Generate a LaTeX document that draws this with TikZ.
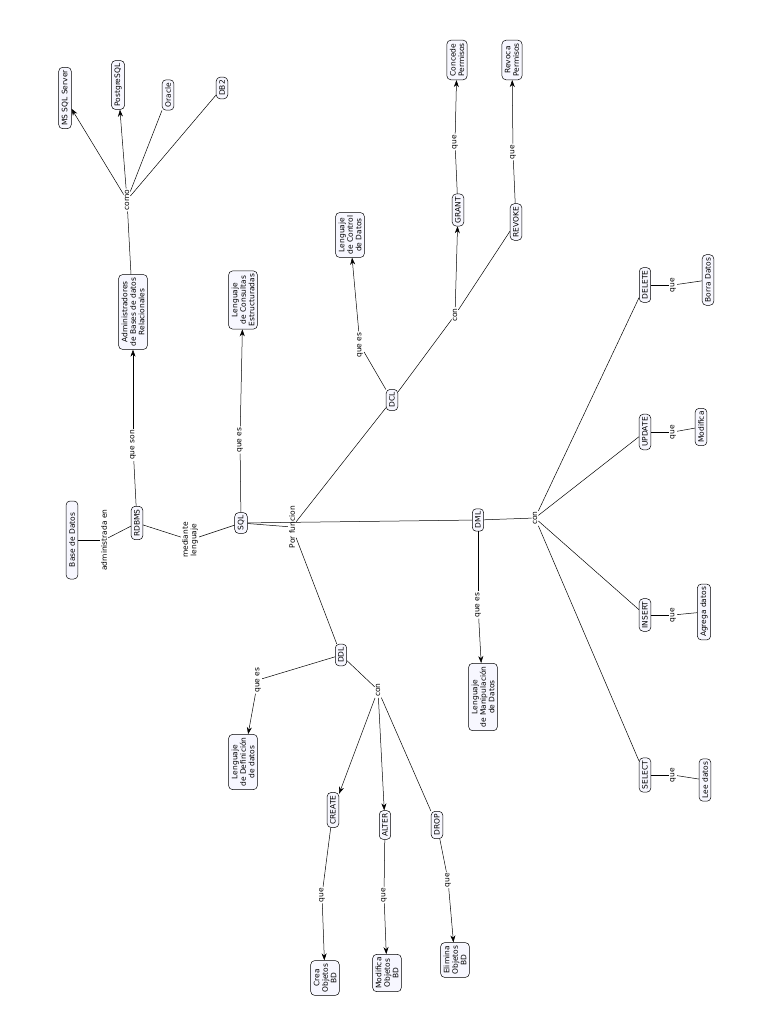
\documentclass[tikz,border=0pt]{standalone}
\usepackage{fontspec}
\setmainfont{DejaVu Sans}
\usetikzlibrary{arrows.meta}
\begin{document}
\begin{tikzpicture}[x=1pt,y=-1pt,
  box/.style={draw=black,fill=black!4!blue!3,rounded corners=4pt,rotate=90,align=center,font=\fontsize{7.5}{8.5}\selectfont,inner sep=3pt,line width=0.5pt},
  lab/.style={rotate=90,align=center,font=\fontsize{7.5}{8.5}\selectfont,inner sep=1pt},
  arr/.style={-{Stealth[length=7pt,width=5pt]},line width=0.5pt},
  ln/.style={line width=0.5pt}]
\useasboundingbox (0,0) rectangle (768,1024);
% nodes
\node[box,minimum width=78pt] (bd) at (72,540) {Base de Datos};
\node[lab] (adm) at (104,540) {administrada en};
\node[box] (rdbms) at (137,523) {RDBMS};
\node[lab] (med) at (190,540) {mediante\\lenguaje};
\node[box] (sql) at (241,523) {SQL};
\node[box] (admin) at (133,312) {Administradores\\de Bases de datos\\Relacionales};
\node[lab] (qson) at (133,445) {que son};
\node[lab] (como) at (127,200) {como};
\node[box] (ms) at (65,98) {MS SQL Server};
\node[box] (pg) at (118,85) {PostgreSQL};
\node[box] (ora) at (168,95) {Oracle};
\node[box] (db2) at (222,88) {DB2};
\node[box] (lce) at (243,300) {Lenguaje\\de Consultas\\Estructuradas};
\node[lab] (qes1) at (240,440) {que es};
\node[lab] (pf) at (292,527) {Por funcion};
\node[box] (dcl) at (392,400) {DCL};
\node[lab] (qes2) at (360,345) {que es};
\node[box] (lcd) at (350,235) {Lenguaje\\de Control\\de Datos};
\node[lab] (con1) at (455,315) {con};
\node[box] (grant) at (458,210) {GRANT};
\node[box] (revoke) at (516,222) {REVOKE};
\node[lab] (q1) at (455,142) {que};
\node[lab] (q2) at (513,152) {que};
\node[box] (cp) at (457,60) {Concede\\Permisos};
\node[box] (rp) at (512,60) {Revoca\\Permisos};
\node[box] (dml) at (478,520) {DML};
\node[lab] (con2) at (535,518) {con};
\node[lab] (qes3) at (478,605) {que es};
\node[box] (lmd) at (483,697) {Lenguaje\\de Manipulación\\de Datos};
\node[box] (del) at (645,285) {DELETE};
\node[box] (upd) at (645,432) {UPDATE};
\node[box] (ins) at (645,615) {INSERT};
\node[box] (sel) at (645,775) {SELECT};
\node[lab] (qd) at (673,285) {que};
\node[lab] (qu) at (673,432) {que};
\node[lab] (qi) at (673,615) {que};
\node[lab] (qs) at (673,775) {que};
\node[box] (bdat) at (708,280) {Borra Datos};
\node[box] (modi) at (701,427) {Modifica};
\node[box] (agr) at (704,612) {Agrega datos};
\node[box] (lee) at (705,780) {Lee datos};
\node[box] (ddl) at (341,655) {DDL};
\node[lab] (qes4) at (258,680) {que es};
\node[box] (ldd) at (243,762) {Lenguaje\\de Definición\\de datos};
\node[lab] (con3) at (378,690) {con};
\node[box] (cre) at (333,810) {CREATE};
\node[box] (alt) at (385,825) {ALTER};
\node[box] (drp) at (437,825) {DROP};
\node[lab] (qc) at (322,895) {que};
\node[lab] (qa) at (384,895) {que};
\node[lab] (qr) at (448,880) {que};
\node[box] (cob) at (325,978) {Crea\\Objetos\\BD};
\node[box] (mob) at (387,973) {Modifica\\Objetos\\BD};
\node[box] (eob) at (455,960) {Elimina\\Objetos\\BD};
% connectors
\draw[ln] (bd)--(adm); \draw[ln] (adm)--(rdbms);
\draw[ln] (rdbms)--(med); \draw[ln] (med)--(sql);
\draw[ln] (rdbms)--(qson); \draw[arr] (qson)--(admin);
\draw[ln] (admin)--(como);
\draw[arr] (como)--(ms); \draw[arr] (como)--(pg);
\draw[ln] (como)--(ora); \draw[ln] (como)--(db2);
\draw[ln] (sql)--(qes1); \draw[arr] (qes1)--(lce);
\draw[ln] (sql)--(pf);
\draw[ln] (pf)--(dcl); \draw[ln] (pf)--(ddl); \draw[ln] (sql)--(dml);
\draw[ln] (dcl)--(qes2); \draw[arr] (qes2)--(lcd);
\draw[ln] (dcl)--(con1); \draw[arr] (con1)--(grant); \draw[ln] (con1)--(revoke);
\draw[ln] (grant)--(q1); \draw[arr] (q1)--(cp);
\draw[ln] (revoke)--(q2); \draw[arr] (q2)--(rp);
\draw[ln] (dml)--(qes3); \draw[arr] (qes3)--(lmd);
\draw[ln] (dml)--(con2);
\foreach \a/\b/\c in {del/qd/bdat,upd/qu/modi,ins/qi/agr,sel/qs/lee}{
  \draw[ln] (con2)--(\a); \draw[ln] (\a)--(\b); \draw[ln] (\b)--(\c);}
\draw[ln] (ddl)--(qes4); \draw[arr] (qes4)--(ldd);
\draw[ln] (ddl)--(con3);
\draw[arr] (con3)--(cre); \draw[arr] (con3)--(alt); \draw[ln] (con3)--(drp);
\draw[ln] (cre)--(qc); \draw[arr] (qc)--(cob);
\draw[ln] (alt)--(qa); \draw[arr] (qa)--(mob);
\draw[ln] (drp)--(qr); \draw[arr] (qr)--(eob);
\end{tikzpicture}
\end{document}
